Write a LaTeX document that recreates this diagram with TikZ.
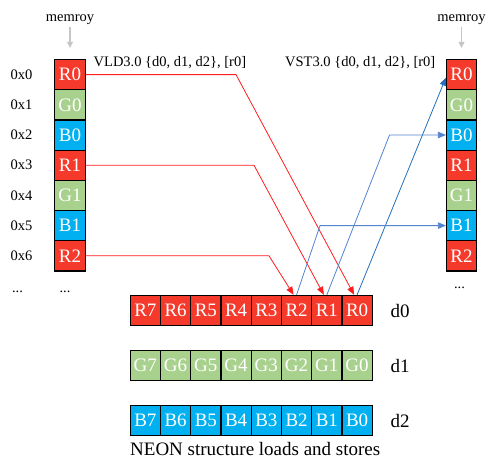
\documentclass[tikz,border=0pt]{standalone}
\usepackage{fontspec}
\setmainfont{Liberation Serif}
\usetikzlibrary{arrows.meta}
\definecolor{cellred}{RGB}{245,57,43}
\definecolor{cellgreen}{RGB}{169,209,142}
\definecolor{cellblue}{RGB}{0,176,240}
\definecolor{linered}{RGB}{255,28,28}
\definecolor{lineblue}{RGB}{36,110,190}
\definecolor{lineblue2}{RGB}{82,132,208}
\tikzset{
    cell/.style={draw=black, line width=1.2pt, text=white, inner sep=0pt,
        minimum width=30.3pt, minimum height=30.2pt, font=\fontsize{19}{19}\selectfont},
    lbl/.style={inner sep=2pt, font=\fontsize{14.5}{17}\selectfont},
    big/.style={inner sep=0pt, font=\fontsize{19}{22}\selectfont},
    load/.style={draw=linered, line width=0.8pt, -{Triangle[length=8pt,width=6.5pt]}},
    store/.style={draw=#1, line width=0.8pt, -{Triangle[length=8pt,width=6.5pt]}},
    feed/.style={draw=gray!45, line width=1.2pt, -{Triangle[length=6pt,width=6pt]}},
}
\begin{document}
\begin{tikzpicture}[x=1pt, y=-1pt]
    \useasboundingbox (0,0) rectangle (493,472);
    % memory on both sides
    \foreach \n/\c [count=\i from 0] in {R0/cellred, G0/cellgreen, B0/cellblue,
            R1/cellred, G1/cellgreen, B1/cellblue, R2/cellred} {
        \node[lbl] (a\i) at (21.5,{74.6+30.2*\i}) {0x\i};
        \node[cell, fill=\c] (l\n) at (70,{74.6+30.2*\i}) {\n};
        \node[cell, fill=\c, minimum width=30pt] (r\n) at (461.5,{74.6+30.2*\i}) {\n};
    }
    \node[lbl, anchor=base] (dotsA) at (17.5,292.5) {...};
    \node[lbl, anchor=base] (dotsL) at (65,292.5) {...};
    \node[lbl, anchor=base] (dotsR) at (459.5,288) {...};
    \node[lbl, anchor=base] (memL) at (70,21.5) {memroy};
    \node[lbl, anchor=base] (memR) at (461.5,21.5) {memroy};
    \draw[feed] (memL.south) -- ++(0,21);
    \draw[feed] (memR.south) -- ++(0,21);
    \node[lbl, anchor=base west] (vld) at (91.5,66) {VLD3.0 \{d0, d1, d2\}, [r0]};
    \node[lbl, anchor=base west] (vst) at (283,66) {VST3.0 \{d0, d1, d2\}, [r0]};
    % registers d0, d1, d2
    \foreach \k in {0,...,7} {
        \node[cell, fill=cellred] (dR\k) at ({357.1-30.25*\k},310.5) {R\k};
        \node[cell, fill=cellgreen] (dG\k) at ({357.1-30.25*\k},365.5) {G\k};
        \node[cell, fill=cellblue] (dB\k) at ({357.1-30.25*\k},420.5) {B\k};
    }
    \node[big] (d0) at (400,310.5) {d0};
    \node[big] (d1) at (400,365.5) {d1};
    \node[big] (d2) at (400,421) {d2};
    \node[big, anchor=base west] (cap) at (130,455.5) {NEON structure loads and stores};
    % VLD3
    \draw[load] (lR0.east) -- (236,74.6) -- ([xshift=-3pt]dR0.north);
    \draw[load] (lR1.east) -- (254,165.2) -- ([xshift=-3pt]dR1.north);
    \draw[load] (lR2.east) -- (269,255.8) -- ([xshift=-3pt]dR2.north);
    % VST3
    \draw[store=lineblue] (dR0.north) -- ([yshift=-3pt]rR0.west);
    \draw[store=lineblue2] (dR1.north) -- (389.5,135) -- (rB0.west);
    \draw[store=lineblue2] (dR2.north) -- (320,225.6) -- (rB1.west);
\end{tikzpicture}
\end{document}
